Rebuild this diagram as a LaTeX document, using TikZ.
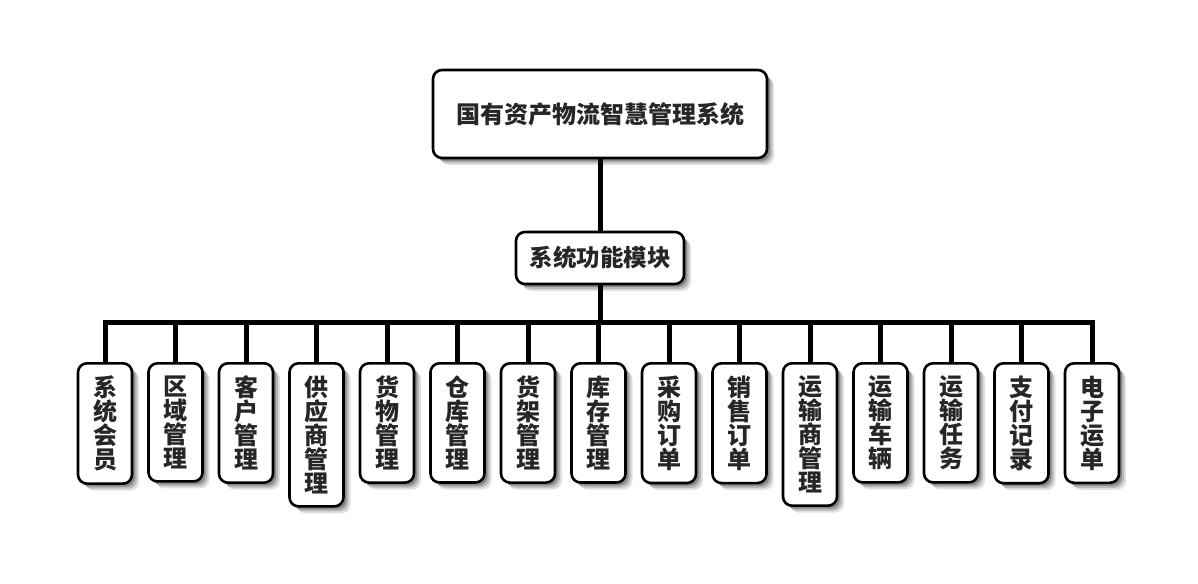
\documentclass[tikz,border=0pt]{standalone}
\usepackage{fontspec}
\newfontfamily\cjk{Noto Sans CJK SC}
\usetikzlibrary{positioning,shadows,backgrounds}

\begin{document}
\begin{tikzpicture}[x=1pt,y=-1pt,
    node distance=144pt,
    box/.style={draw,line width=2.6pt,rounded corners=9pt,fill=white,
        text=black!85,
        drop shadow={shadow xshift=7pt,shadow yshift=-7pt,opacity=.12,fill=black},
        drop shadow={shadow xshift=5pt,shadow yshift=-5pt,opacity=.18,fill=black},
        drop shadow={shadow xshift=3pt,shadow yshift=-3pt,opacity=.25,fill=black}},
    leaf/.style={box,anchor=north,minimum width=54pt,inner xsep=0pt,inner ysep=12.5pt,
        align=center,font=\cjk\bfseries\fontsize{24}{24}\selectfont},
    link/.style={line width=5pt}]
    \useasboundingbox (0,0) rectangle (1198,583);
    \node[box,minimum width=334pt,minimum height=88pt,
        font=\cjk\bfseries\fontsize{24}{24}\selectfont] (sys) at (600,114) {国有资产物流智慧管理系统};
    \node[box,minimum width=168pt,minimum height=52pt,
        font=\cjk\bfseries\fontsize{23.5}{24}\selectfont] (mod) [below of=sys] {系统功能模块};
    \coordinate (bus) at (600,322);
    \foreach \name [count=\i] in {系\\统\\会\\员,区\\域\\管\\理,客\\户\\管\\理,
        供\\应\\商\\管\\理,货\\物\\管\\理,仓\\库\\管\\理,货\\架\\管\\理,
        库\\存\\管\\理,采\\购\\订\\单,销\\售\\订\\单,运\\输\\商\\管\\理,
        运\\输\\车\\辆,运\\输\\任\\务,支\\付\\记\\录,电\\子\\运\\单}
        \node[leaf] (m\i) at ({105+70.5*(\i-1)},362) {\name};
    \begin{scope}[on background layer]
        \draw[link] (sys) -- (mod);
        \draw[link] (mod) -- (bus);
        \foreach \i in {1,...,15}
            \draw[link] (bus) -| (m\i.north);
    \end{scope}
\end{tikzpicture}
\end{document}
